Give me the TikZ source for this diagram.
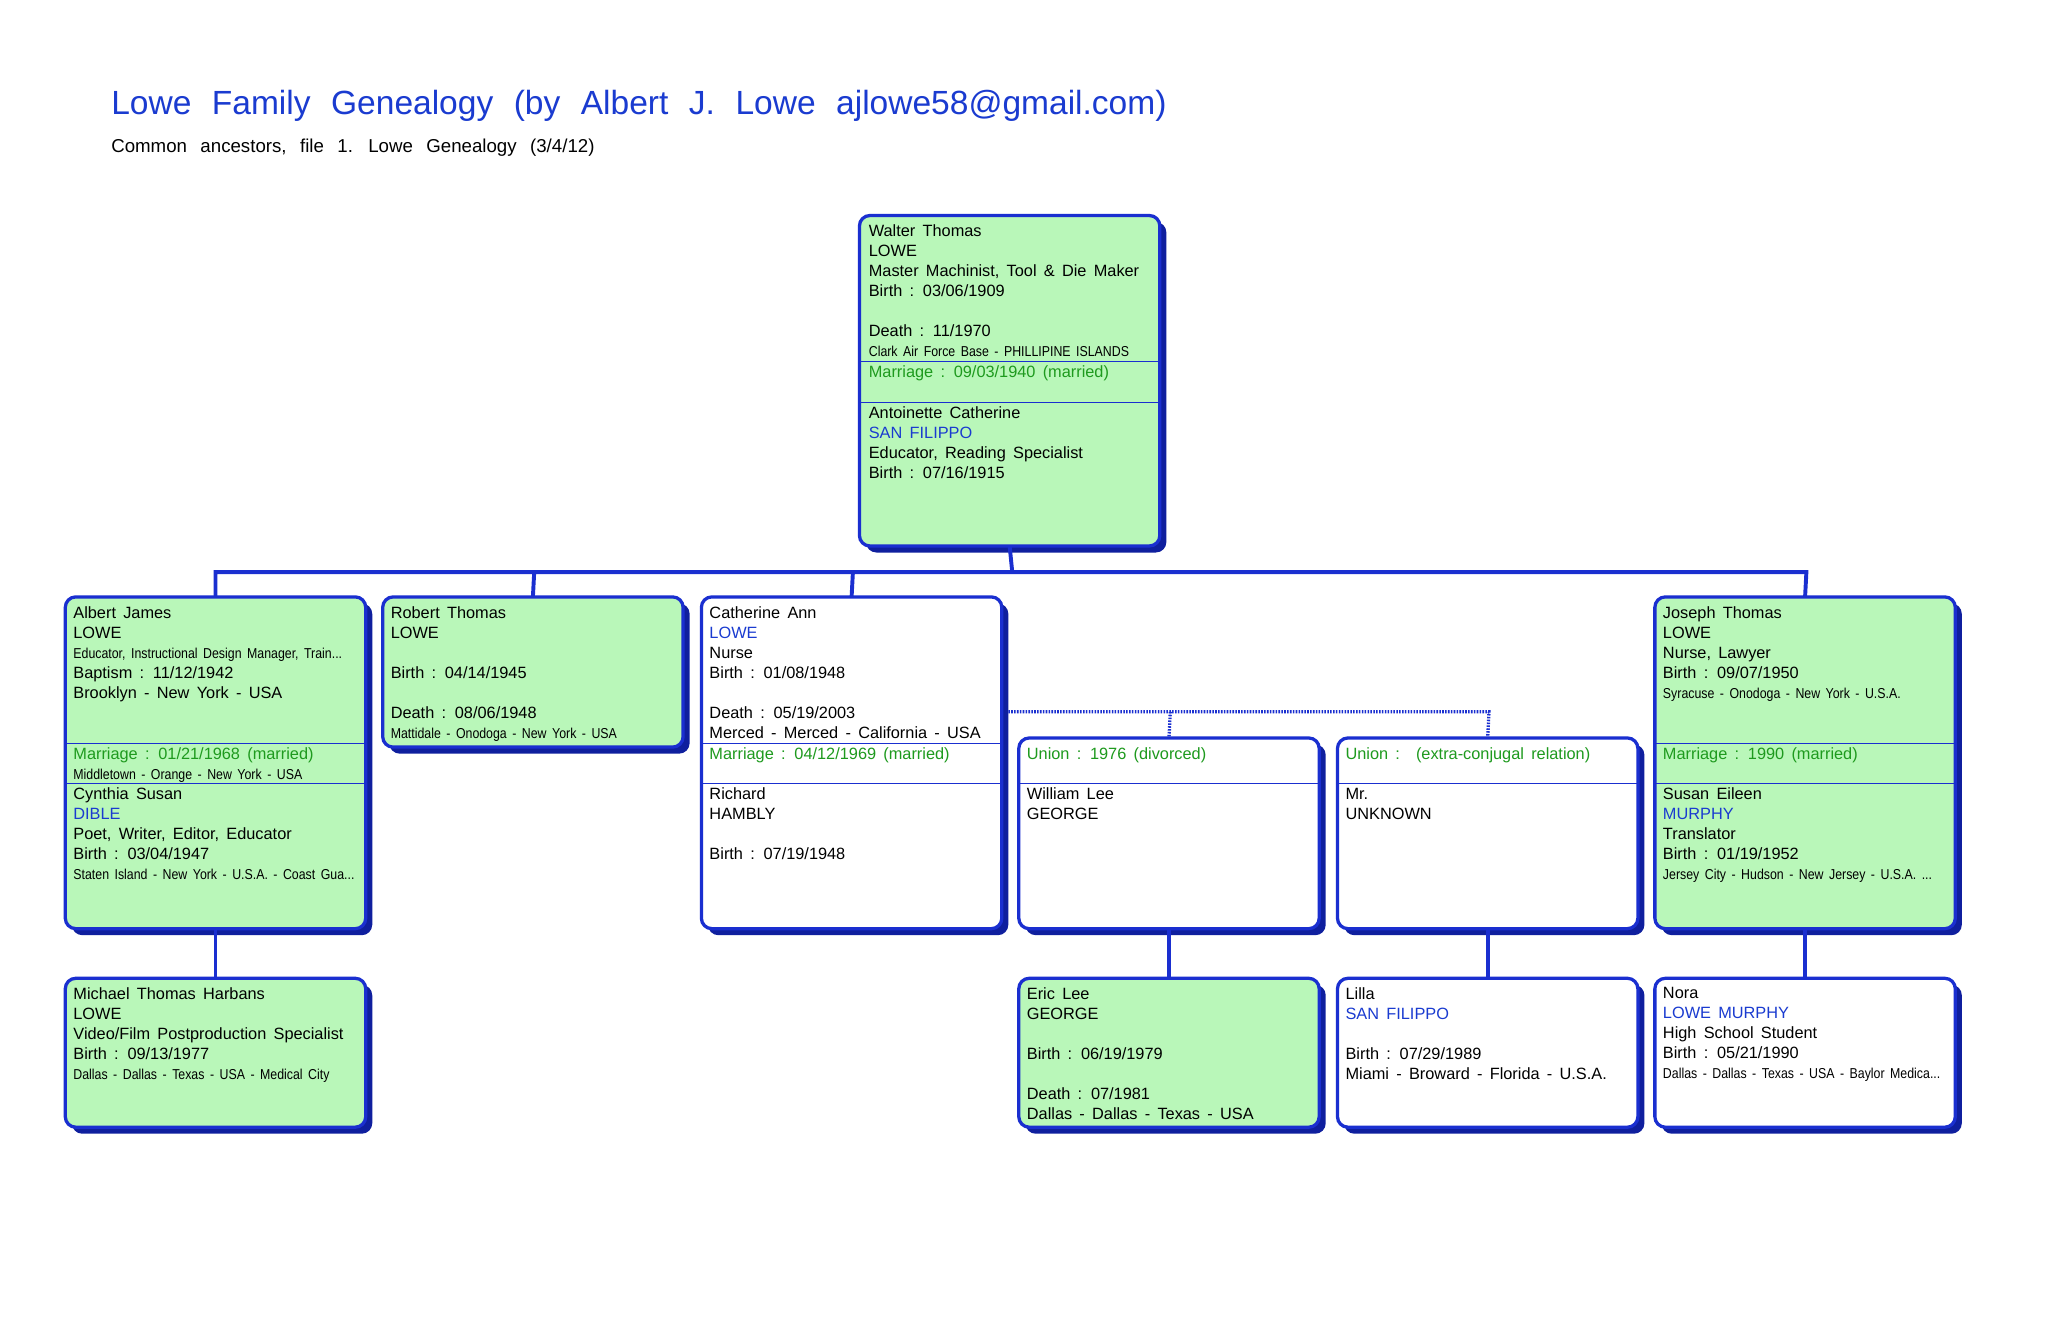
\documentclass[tikz,border=0pt]{standalone}
\usepackage{fontspec}
\setmainfont{Liberation Sans}[WordSpace={1.6}]
\usepackage{graphicx}
\definecolor{bl}{HTML}{1A2FD0}
\definecolor{sh}{HTML}{0F1F9E}
\definecolor{gf}{HTML}{B9F7B9}
\definecolor{gt}{HTML}{1E9A1E}
\definecolor{tb}{HTML}{1A3BD0}
\newcommand\sm[1]{\scalebox{0.86}[1]{\fontsize{11}{15.3}\selectfont #1}}
\newcommand\famcard[6]{%
 \fill[sh, rounded corners=8pt] (#2+5,#3+5) rectangle (#4+5,#5+5);
 \draw[bl, line width=2.5pt, fill=#6, rounded corners=8pt] (#2,#3) rectangle (#4,#5);
 \coordinate (#1-n) at ({(#2+#4)/2},#3);
 \coordinate (#1-s) at ({(#2+#4)/2},#5);}
\tikzset{txt/.style={anchor=north west, inner sep=0pt, align=left, font=\fontsize{12.5}{15.3}\selectfont},
 divl/.style={bl, line width=1pt},
 conn/.style={bl, line width=3pt},
 hatch/.style={bl, line width=2.5pt, dash pattern=on 1.2pt off 1pt}}
\begin{document}
\begin{tikzpicture}[x=1pt,y=-1pt]
\useasboundingbox (0,0) rectangle (1568,1015);
\fill[white] (0,0) rectangle (1568,1015);
\node[anchor=base west, inner sep=0, text=tb, font=\fontsize{32}{36}\selectfont] (title) at (85,88) {\resizebox{808pt}{!}{\fontspec{Liberation Sans}[WordSpace={2.2}]Lowe Family Genealogy (by Albert J. Lowe ajlowe58@gmail.com)}};
\node[anchor=base west, inner sep=0, font=\fontsize{17}{20}\selectfont] (sub) at (85,117) {\resizebox{370pt}{!}{\fontspec{Liberation Sans}[WordSpace={2.6}]Common ancestors, file 1. Lowe Genealogy (3/4/12)}};
% connectors
\coordinate (busL) at (165,438); \coordinate (busR) at (1383,438);
\coordinate (busM) at (775,438);
\coordinate (b1) at (409,438); \coordinate (b2) at (653,438);
\coordinate (h1) at (772,545); \coordinate (h2) at (896,545); \coordinate (h3) at (1140,545);
% cards
\famcard{wt}{658}{165}{888}{418}{gf}
\famcard{aj}{50}{457}{280}{711}{gf}
\famcard{rt}{293}{457}{523}{572}{gf}
\famcard{ca}{537}{457}{767}{711}{white}
\famcard{u1}{780}{565}{1010}{711}{white}
\famcard{u2}{1024}{565}{1254}{711}{white}
\famcard{jt}{1267}{457}{1497}{711}{gf}
\famcard{mt}{50}{749}{280}{863}{gf}
\famcard{el}{780}{749}{1010}{863}{gf}
\famcard{li}{1024}{749}{1254}{863}{white}
\famcard{no}{1267}{749}{1497}{863}{white}
\draw[conn] (wt-s) -- (busM);
\draw[conn] (aj-n) -- (busL) -- (busR) -- (jt-n);
\draw[conn] (b1) -- (rt-n); \draw[conn] (b2) -- (ca-n);
\draw[conn] (aj-s) -- (mt-n);
\draw[conn] (u1-s) -- (el-n);
\draw[conn] (u2-s) -- (li-n);
\draw[conn] (jt-s) -- (no-n);
\draw[hatch] (h1) -- (h3) -- (u2-n);
\draw[hatch] (h2) -- (u1-n);
% dividers
\draw[divl] (658,277) -- (888,277); \draw[divl] (658,308) -- (888,308);
\foreach \a/\b in {50/280,537/767,1267/1497}{\draw[divl] (\a,569) -- (\b,569); \draw[divl] (\a,600) -- (\b,600);}
\draw[divl] (780,600) -- (1010,600); \draw[divl] (1024,600) -- (1254,600);
% texts
\node[txt] (t1) at (665,172) {Walter Thomas\\LOWE\\Master Machinist, Tool \& Die Maker\\Birth : 03/06/1909\\\null\\Death : 11/1970\\\sm{Clark Air Force Base - PHILLIPINE ISLANDS}};
\node[txt, text=gt] (t2) at (665,280) {Marriage : 09/03/1940 (married)};
\node[txt] (t3) at (665,311) {Antoinette Catherine\\\textcolor{tb}{SAN FILIPPO}\\Educator, Reading Specialist\\Birth : 07/16/1915};
\node[txt] (t4) at (56,464) {Albert James\\LOWE\\\sm{Educator, Instructional Design Manager, Train...}\\Baptism : 11/12/1942\\Brooklyn - New York - USA};
\node[txt] (t5) at (56,572) {\textcolor{gt}{Marriage : 01/21/1968 (married)}\\\sm{Middletown - Orange - New York - USA}};
\node[txt] (t6) at (56,603) {Cynthia Susan\\\textcolor{tb}{DIBLE}\\Poet, Writer, Editor, Educator\\Birth : 03/04/1947\\\sm{Staten Island - New York - U.S.A. - Coast Gua...}};
\node[txt] (t7) at (299,464) {Robert Thomas\\LOWE\\\null\\Birth : 04/14/1945\\\null\\Death : 08/06/1948\\\sm{Mattidale - Onodoga - New York - USA}};
\node[txt] (t8) at (543,464) {Catherine Ann\\\textcolor{tb}{LOWE}\\Nurse\\Birth : 01/08/1948\\\null\\Death : 05/19/2003\\Merced - Merced - California - USA};
\node[txt, text=gt] (t9) at (543,572) {Marriage : 04/12/1969 (married)};
\node[txt] (t10) at (543,603) {Richard\\HAMBLY\\\null\\Birth : 07/19/1948};
\node[txt, text=gt] (t11) at (786,572) {Union : 1976 (divorced)};
\node[txt] (t12) at (786,603) {William Lee\\GEORGE};
\node[txt, text=gt] (t13) at (1030,572) {Union : \ (extra-conjugal relation)};
\node[txt] (t14) at (1030,603) {Mr.\\UNKNOWN};
\node[txt] (t15) at (1273,464) {Joseph Thomas\\LOWE\\Nurse, Lawyer\\Birth : 09/07/1950\\\sm{Syracuse - Onodoga - New York - U.S.A.}};
\node[txt, text=gt] (t16) at (1273,572) {Marriage : 1990 (married)};
\node[txt] (t17) at (1273,603) {Susan Eileen\\\textcolor{tb}{MURPHY}\\Translator\\Birth : 01/19/1952\\\sm{Jersey City - Hudson - New Jersey - U.S.A. ...}};
\node[txt] (t18) at (56,756) {Michael Thomas Harbans\\LOWE\\Video/Film Postproduction Specialist\\Birth : 09/13/1977\\\sm{Dallas - Dallas - Texas - USA - Medical City}};
\node[txt] (t19) at (786,756) {Eric Lee\\GEORGE\\\null\\Birth : 06/19/1979\\\null\\Death : 07/1981\\Dallas - Dallas - Texas - USA};
\node[txt] (t20) at (1030,756) {Lilla\\\textcolor{tb}{SAN FILIPPO}\\\null\\Birth : 07/29/1989\\Miami - Broward - Florida - U.S.A.};
\node[txt] (t21) at (1273,756) {Nora\\\textcolor{tb}{LOWE MURPHY}\\High School Student\\Birth : 05/21/1990\\\sm{Dallas - Dallas - Texas - USA - Baylor Medica...}};
\end{tikzpicture}
\end{document}
